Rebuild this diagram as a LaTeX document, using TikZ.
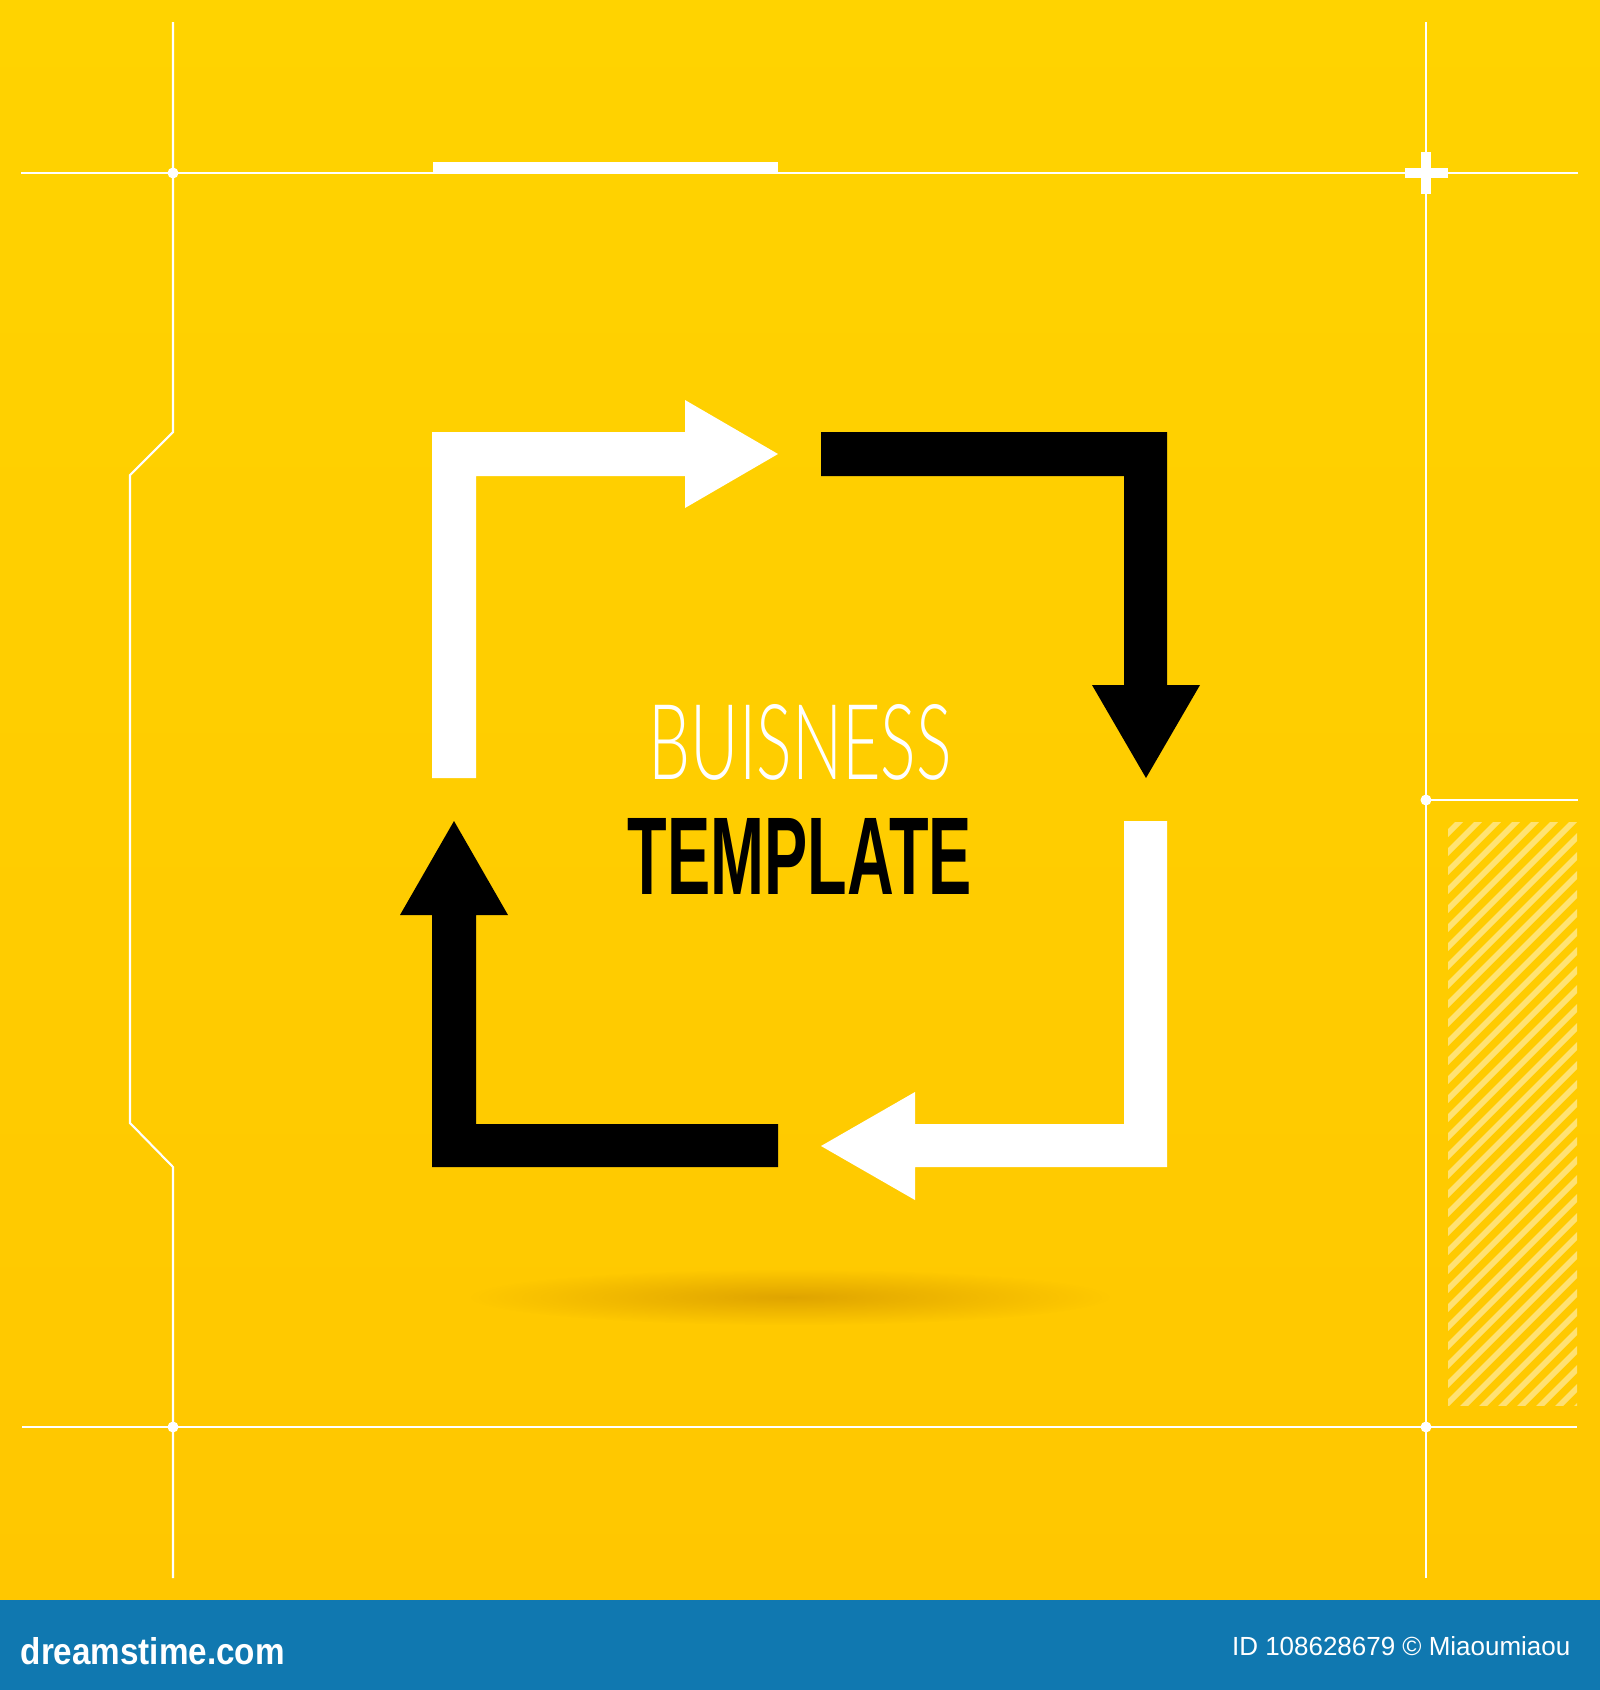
\documentclass[tikz,border=0pt]{standalone}
\usepackage{fontspec}
\setmainfont{Liberation Sans}
\IfFontExistsTF{Lato Light}{\newfontfamily\thinfont{Lato Light}}{\newfontfamily\thinfont{Liberation Sans}}
\usetikzlibrary{fadings}
\definecolor{bgtop}{RGB}{255,211,0}
\definecolor{bgbot}{RGB}{255,199,0}
\definecolor{barblue}{RGB}{16,120,176}
\definecolor{shadowc}{RGB}{185,120,0}
\tikzfading[name=softfade, inner color=transparent!0, outer color=transparent!100]
\begin{document}
\begin{tikzpicture}[x=0.01cm,y=-0.01cm,
  guide/.style={draw=white, line width=0.6pt},
  guidedot/.style={fill=white},
  whitearrow/.style={fill=white},
  blackarrow/.style={fill=black},
  stripe/.style={draw=white, opacity=0.45, line width=1.6pt},
  label/.style={inner sep=0pt}]
\useasboundingbox (0,0) rectangle (1600,1690);
% background
\shade[top color=bgtop,bottom color=bgbot] (0,0) rectangle (1600,1600);
\fill[barblue] (0,1600) rectangle (1600,1690);
% shadow under the cycle
\fill[shadowc, path fading=softfade, opacity=0.45] (790,1297) ellipse [x radius=320, y radius=28];
% guide lines
\draw[guide] (21,173) -- (1578,173);
\draw[guide, line width=0.75pt] (22,1427) -- (1577,1427);
\draw[guide] (1426,22) -- (1426,1578);
\draw[guide] (1426,800) -- (1578,800);
\draw[guide] (173,22) -- (173,432) -- (130,475) -- (130,1123) -- (173,1167) -- (173,1578);
\fill[white] (433,162) rectangle (778,173);
% plus mark
\fill[white] (1405,168) rectangle (1448,178);
\fill[white] (1421,152) rectangle (1431,194);
% dots
\fill[guidedot] (173,173) circle [radius=5.5];
\fill[guidedot] (173,1427) circle [radius=5.5];
\fill[guidedot] (1426,1427) circle [radius=5.5];
\fill[guidedot] (1426,800) circle [radius=5.5];
% hatched panel
\begin{scope}
  \clip (1448,822) rectangle (1577,1405);
  \foreach \k in {0,...,38} \draw[stripe] (1440,822+19*\k) -- ++(220,-220);
\end{scope}
% arrows
\fill[whitearrow] (432,778) -- (432,432) -- (685,432) -- (685,400) -- (778,454) -- (685,508) -- (685,476) -- (476,476) -- (476,778) -- cycle;
\fill[blackarrow] (821,432) -- (1167,432) -- (1167,685) -- (1200,685) -- (1146,778) -- (1092,685) -- (1124,685) -- (1124,476) -- (821,476) -- cycle;
\fill[whitearrow] (1167,821) -- (1167,1167) -- (915,1167) -- (915,1200) -- (821,1146) -- (915,1092) -- (915,1124) -- (1124,1124) -- (1124,821) -- cycle;
\fill[blackarrow] (778,1167) -- (432,1167) -- (432,915) -- (400,915) -- (454,821) -- (508,915) -- (476,915) -- (476,1124) -- (778,1124) -- cycle;
% texts
\node[label, anchor=base west, text=white] (t1) at (648,779) {\resizebox{3.03cm}{0.75cm}{\thinfont BUISNESS}};
\node[label, anchor=base west, text=black] (t2) at (627,894) {\resizebox{3.44cm}{0.76cm}{\bfseries TEMPLATE}};
\node[label, anchor=base west, text=white] (f1) at (20,1664) {\resizebox{2.64cm}{0.27cm}{\bfseries dreamstime.com}};
\node[label, anchor=base east, text=white] (f2) at (1571,1655) {\resizebox{3.38cm}{0.19cm}{ID 108628679 © Miaoumiaou}};
\end{tikzpicture}
\end{document}
